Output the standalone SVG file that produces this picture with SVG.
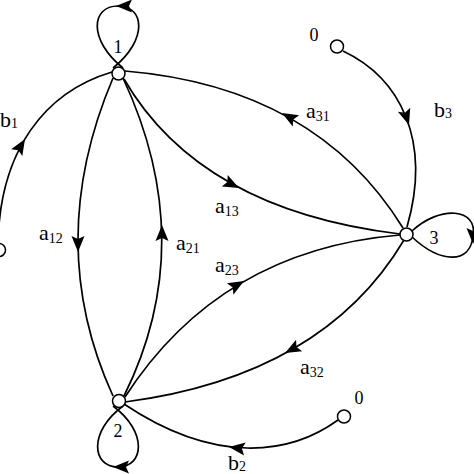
<svg xmlns="http://www.w3.org/2000/svg" xmlns:xlink="http://www.w3.org/1999/xlink" width="474" height="474" viewBox="0 0 474 474">
<style>
.edge{fill:none;stroke:#000;stroke-width:1.7}
.node{fill:#fff;stroke:#000;stroke-width:1.5}
.num{font-family:"Liberation Serif","Times New Roman",serif;font-size:18px;fill:#000;text-anchor:middle}
.lab{font-family:"Liberation Serif","Times New Roman",serif;font-size:22px;fill:#000}
.sub{font-size:14px}
</style>
<defs>
<path id="ah" d="M0,0 L-16,-6.5 L-13,0 L-16,6.5 Z" fill="#000"/>
</defs>
<rect width="474" height="474" fill="#fff"/>
<g id="connectors">
<path class="edge" d="M113,78 Q43,243 113,396"/>
<path class="edge" d="M123,78 Q200,243 124,396"/>
<path class="edge" d="M124,79 Q200,210 400,234"/>
<path class="edge" d="M125,71 Q316,87 403,228"/>
<path class="edge" d="M125,397 Q220,250 400,235"/>
<path class="edge" d="M404,240 Q323,376 125,402"/>
<path class="edge" d="M-2,243 C0,150 45,92 112,72"/>
<path class="edge" d="M343,51 C400,78 432,140 407,227"/>
<path class="edge" d="M338,420 C290,455 215,465 124,404"/>
<path class="edge" d="M113,68 C148,40 145,6 118,6 C91,6 88,40 123,68"/>
<path class="edge" d="M113,406 C148,432 144,467 118,467 C92,467 88,432 123,406"/>
<path class="edge" d="M412,231 C440,205 478,208 473,236 C470,265 440,263 412,237"/>
<use xlink:href="#ah" transform="translate(78,252) rotate(90)"/>
<use xlink:href="#ah" transform="translate(162,225) rotate(-90)"/>
<use xlink:href="#ah" transform="translate(239,188) rotate(27)"/>
<use xlink:href="#ah" transform="translate(282,113) rotate(209.6)"/>
<use xlink:href="#ah" transform="translate(244,281) rotate(-30)"/>
<use xlink:href="#ah" transform="translate(285,353) rotate(152)"/>
<use xlink:href="#ah" transform="translate(25,139) rotate(-59)"/>
<use xlink:href="#ah" transform="translate(409,125) rotate(72)"/>
<use xlink:href="#ah" transform="translate(229,447) rotate(187)"/>
<use xlink:href="#ah" transform="translate(116,6) rotate(180)"/>
<use xlink:href="#ah" transform="translate(113,467) rotate(180)"/>
<use xlink:href="#ah" transform="translate(473,244) rotate(90)"/>
</g>
<g id="edge-labels">
<text class="lab" x="39" y="240">a<tspan class="sub" dy="3">12</tspan></text>
<text class="lab" x="176" y="250">a<tspan class="sub" dy="3">21</tspan></text>
<text class="lab" x="215" y="213">a<tspan class="sub" dy="3">13</tspan></text>
<text class="lab" x="306" y="118">a<tspan class="sub" dy="3">31</tspan></text>
<text class="lab" x="215" y="272">a<tspan class="sub" dy="3">23</tspan></text>
<text class="lab" x="300" y="374">a<tspan class="sub" dy="3">32</tspan></text>
<text class="lab" x="0" y="127">b<tspan class="sub" dy="1">1</tspan></text>
<text class="lab" x="434" y="117">b<tspan class="sub" dy="1">3</tspan></text>
<text class="lab" x="228" y="470">b<tspan class="sub" dy="1">2</tspan></text>
</g>
<g id="node1">
<circle class="node" cx="118.5" cy="73.5" r="6.5"/>
<text class="num" x="118" y="53">1</text>
</g>
<g id="node2">
<circle class="node" cx="119" cy="401" r="6.5"/>
<text class="num" x="118" y="437">2</text>
</g>
<g id="node3">
<circle class="node" cx="406.5" cy="234.5" r="6.5"/>
<text class="num" x="434" y="244">3</text>
</g>
<g id="source1">
<circle class="node" cx="-1" cy="250" r="6.5"/>
</g>
<g id="source3">
<circle class="node" cx="337" cy="46.5" r="6.5"/>
<text class="num" x="314" y="41">0</text>
</g>
<g id="source2">
<circle class="node" cx="344" cy="416.5" r="6.5"/>
<text class="num" x="359" y="404">0</text>
</g>
</svg>
